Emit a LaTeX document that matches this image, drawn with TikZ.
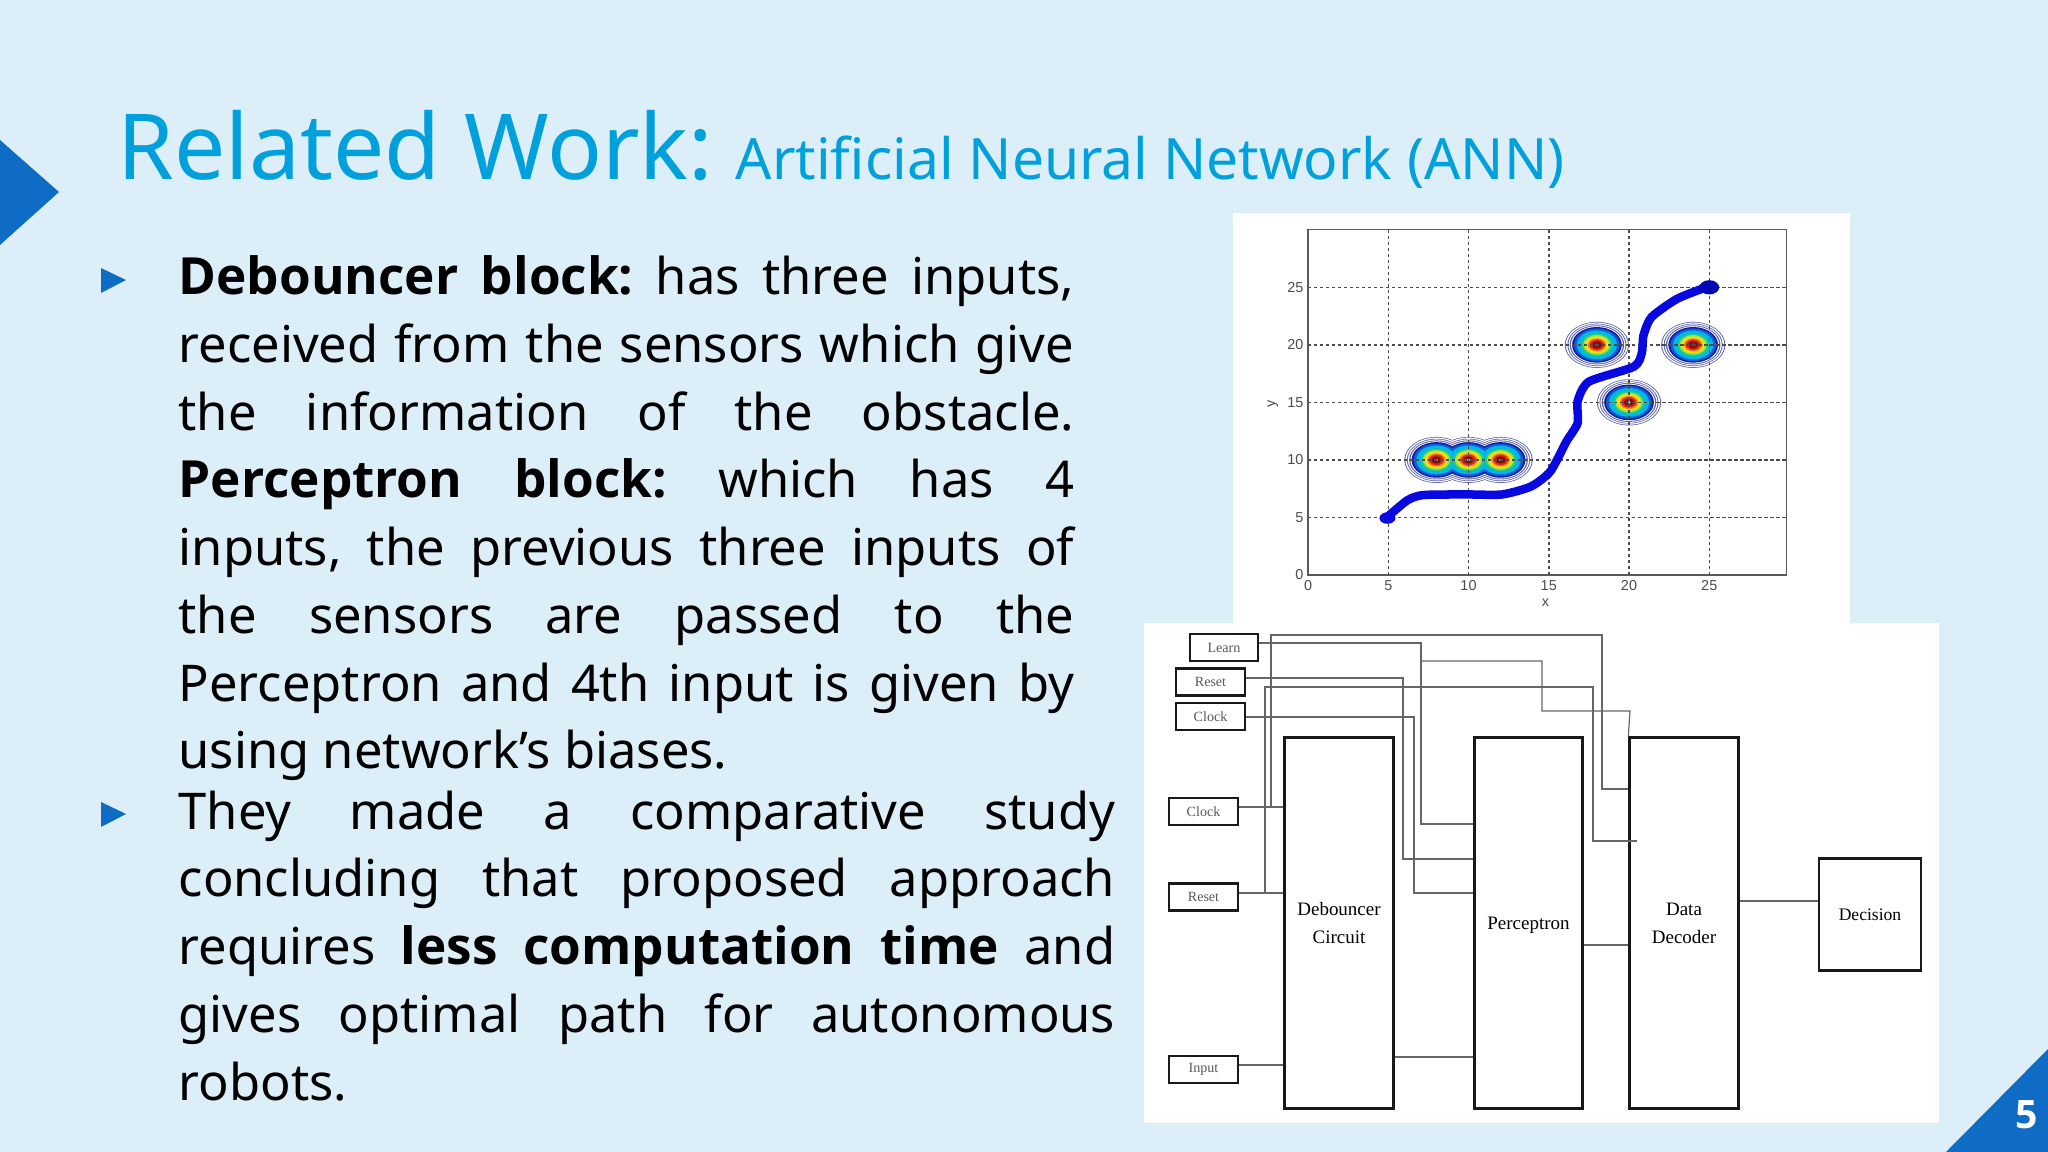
\documentclass[tikz,border=0pt]{standalone}
\usepackage{fontspec}
\setmainfont{Noto Sans}
\newfontfamily\heavyfont[Scale=1.012]{Open Sans}
\newfontfamily\plotfont{Liberation Sans}
\newfontfamily\blockfont{Liberation Serif}
\definecolor{slidebg}{RGB}{220,238,248}
\definecolor{titleblue}{RGB}{0,160,220}
\definecolor{markblue}{RGB}{15,108,196}
\definecolor{pathblue}{RGB}{8,8,225}
\definecolor{ringline}{RGB}{90,95,170}
\definecolor{ringa}{RGB}{20,30,150}
\definecolor{ringb}{RGB}{20,90,225}
\definecolor{ringc}{RGB}{0,185,225}
\definecolor{ringd}{RGB}{30,205,140}
\definecolor{ringe}{RGB}{175,225,50}
\definecolor{ringf}{RGB}{250,225,20}
\definecolor{ringg}{RGB}{245,130,20}
\definecolor{ringh}{RGB}{225,35,20}
\definecolor{ringi}{RGB}{135,10,10}
\newcommand{\strongword}[1]{{\heavyfont\bfseries #1}}
\newcommand{\jline}[2]{\makebox[#1][s]{#2}}
\newcommand{\contourblob}[1]{%
  \foreach \r/\c in {2/ringline,1.94/white,1.84/ringline,1.78/white,1.7/ringline,1.62/white,1.55/ringa,1.42/ringb,1.25/ringc,.98/ringd,.85/ringe,.72/ringf,.58/ringg,.46/ringh,.32/ringi,.1/white}{
    \foreach \p in {#1}{\fill[\c] \p circle [radius=\r];}}}
\tikzset{
  bodytext/.style={anchor=north west,inner sep=0,align=left,text=black,font=\fontsize{14.4}{19.26}\selectfont\frenchspacing},
  ticklabel/.style={inner sep=0,text=black!70,font=\plotfont\fontsize{4.1}{5}\selectfont},
  griddash/.style={black!70,line width=.015cm,dash pattern=on .033cm off .027cm},
  signalbox/.style={draw=black!90,line width=.028cm,inner sep=0,minimum height=.27cm,text=black!65,font=\blockfont\fontsize{4}{5}\selectfont},
  block/.style={draw=black!90,line width=.028cm,inner sep=0,minimum width=1.085cm,minimum height=3.7cm,align=center,text=black,font=\blockfont\fontsize{5.4}{7.9}\selectfont},
  wire/.style={black!60,line width=.012cm}
}
\begin{document}
\begin{tikzpicture}[x=.01cm,y=-.01cm]
\useasboundingbox (0,0) rectangle (2048,1152);
\fill [slidebg] (0,0) rectangle (2048,1152);
\fill [markblue] (0,140) -- (59,192) -- (0,245) -- cycle;
\fill [markblue] (1946,1152) -- (2048,1049) -- (2048,1152) -- cycle;
\fill [markblue] (101,268) -- (126,280) -- (101,293) -- cycle;
\fill [markblue] (101,802) -- (126,814) -- (101,827) -- cycle;
\node [anchor=base west,inner sep=0,text=titleblue,font=\fontsize{25.9}{30}\selectfont] (title) at (117,180) {Related Work:};
\node [anchor=base west,inner sep=0,text=titleblue,font=\fontsize{16.2}{20}\selectfont] (subtitle) at (735,180) {Artificial Neural Network (ANN)};
\node [anchor=base,inner sep=0,text=white,font=\fontsize{11}{13}\selectfont] (pagenum) at (2027,1128) {\strongword{5}};
\node [bodytext] (debouncertext) at (178,255) {%
\jline{8.95cm}{\strongword{Debouncer block:} has three inputs,}\\
\jline{8.95cm}{received from the sensors which give}\\
\jline{8.95cm}{the information of the obstacle.}\\
\jline{8.95cm}{\strongword{Perceptron block:} which has 4}\\
\jline{8.95cm}{inputs, the previous three inputs of}\\
\jline{8.95cm}{the sensors are passed to the}\\
\jline{8.95cm}{Perceptron and 4th input is given by}\\
using network’s biases.};
\node [bodytext] (studytext) at (178,790) {%
\jline{9.36cm}{They made a comparative study}\\
\jline{9.36cm}{concluding that proposed approach}\\
\jline{9.36cm}{requires \strongword{less computation time} and}\\
\jline{9.36cm}{gives optimal path for autonomous}\\
robots.};
% plot picture
\fill [white] (1233,213) rectangle (1850,640);
\begin{scope}[shift={(1308,575)},x=.1604cm,y=.115cm]
\contourblob{(8,10),(10,10),(12,10)}
\contourblob{(18,20)}
\contourblob{(24,20)}
\contourblob{(20,15)}
\foreach \v in {5,10,15,20,25} {
  \draw [griddash] (\v,0) -- (\v,30);
  \draw [griddash] (0,\v) -- (29.8,\v);
  \node [ticklabel] (xtick\v) at (\v,-.95) {\v};
  \node [ticklabel,anchor=east] (ytick\v) at (-.25,\v) {\v};
}
\node [ticklabel] (xtick0) at (0,-.95) {0};
\node [ticklabel,anchor=east] (ytick0) at (-.25,0) {0};
\node [ticklabel] (xlabel) at (14.8,-2.4) {x};
\node [ticklabel,rotate=90] (ylabel) at (-2.2,14.9) {y};
\draw [black!65,line width=.014cm] (0,0) rectangle (29.8,30);
\draw [pathblue,line width=.085cm,line join=round] plot [smooth,tension=.4] coordinates {(4.95,5.05) (6.2,6.5) (7.2,6.95) (9.9,7) (12.1,7) (13.9,7.7) (15.1,9) (16.1,11.6) (16.8,13.2) (16.8,15.1) (17.5,16.8) (20.3,18.1) (20.8,19.3) (20.9,20.8) (21.4,22.4) (23,24) (25,25.1)};
\fill [pathblue!80!black] (25,25) circle [radius=.62];
\fill [pathblue] (4.95,4.95) circle [radius=.5];
\end{scope}
% block picture
\fill [white] (1144,623) rectangle (1939,1123);
\node [signalbox,minimum width=.68cm] (learn) at (1224,647.5) {Learn};
\node [signalbox,minimum width=.69cm] (resettop) at (1210.5,682) {Reset};
\node [signalbox,minimum width=.69cm] (clocktop) at (1210.5,716.5) {Clock};
\node [signalbox,minimum width=.69cm] (clocklow) at (1203.5,811.5) {Clock};
\node [signalbox,minimum width=.69cm] (resetlow) at (1203.5,897) {Reset};
\node [signalbox,minimum width=.69cm] (input) at (1203.5,1069.5) {Input};
\node [block] (debouncer) at (1339,923) {Debouncer\\Circuit};
\node [block,text depth=0pt] (perceptron) at (1528.5,923) {Perceptron};
\node [block] (decoder) at (1684,923) {Data\\Decoder};
\node [block,minimum width=1.02cm,minimum height=1.12cm,font=\blockfont\fontsize{5}{6}\selectfont] (decision) at (1870,914.5) {Decision};
\draw [wire] (clocklow.east |- 0,807) -- (debouncer.west |- 0,807);
\draw [wire] (resetlow.east |- 0,893) -- (debouncer.west |- 0,893);
\draw [wire] (input.east |- 0,1065) -- (debouncer.west |- 0,1065);
\draw [wire] (debouncer.east |- 0,1057) -- (perceptron.west |- 0,1057);
\draw [wire] (perceptron.east |- 0,945) -- (decoder.west |- 0,945);
\draw [wire] (decoder.east |- 0,901) -- (decision.west |- 0,901);
\draw [wire] (1271,807) -- (1271,635) -- (1602,635) -- (1602,789) -- (decoder.west |- 0,789);
\draw [wire] (learn.east |- 0,643) -- (1421,643) -- (1421,824) -- (perceptron.west |- 0,824);
\draw [wire] (1421,661) -- (1542,661) -- (1542,711) -- (1630,711) -- (decoder.north west);
\draw [wire] (resettop.east |- 0,678) -- (1403,678) -- (1403,859) -- (perceptron.west |- 0,859);
\draw [wire] (1265,893) -- (1265,687) -- (1593,687) -- (1593,841) -- (1637,841);
\draw [wire] (clocktop.east |- 0,717) -- (1414,717) -- (1414,893) -- (perceptron.west |- 0,893);
\end{tikzpicture}
\end{document}
